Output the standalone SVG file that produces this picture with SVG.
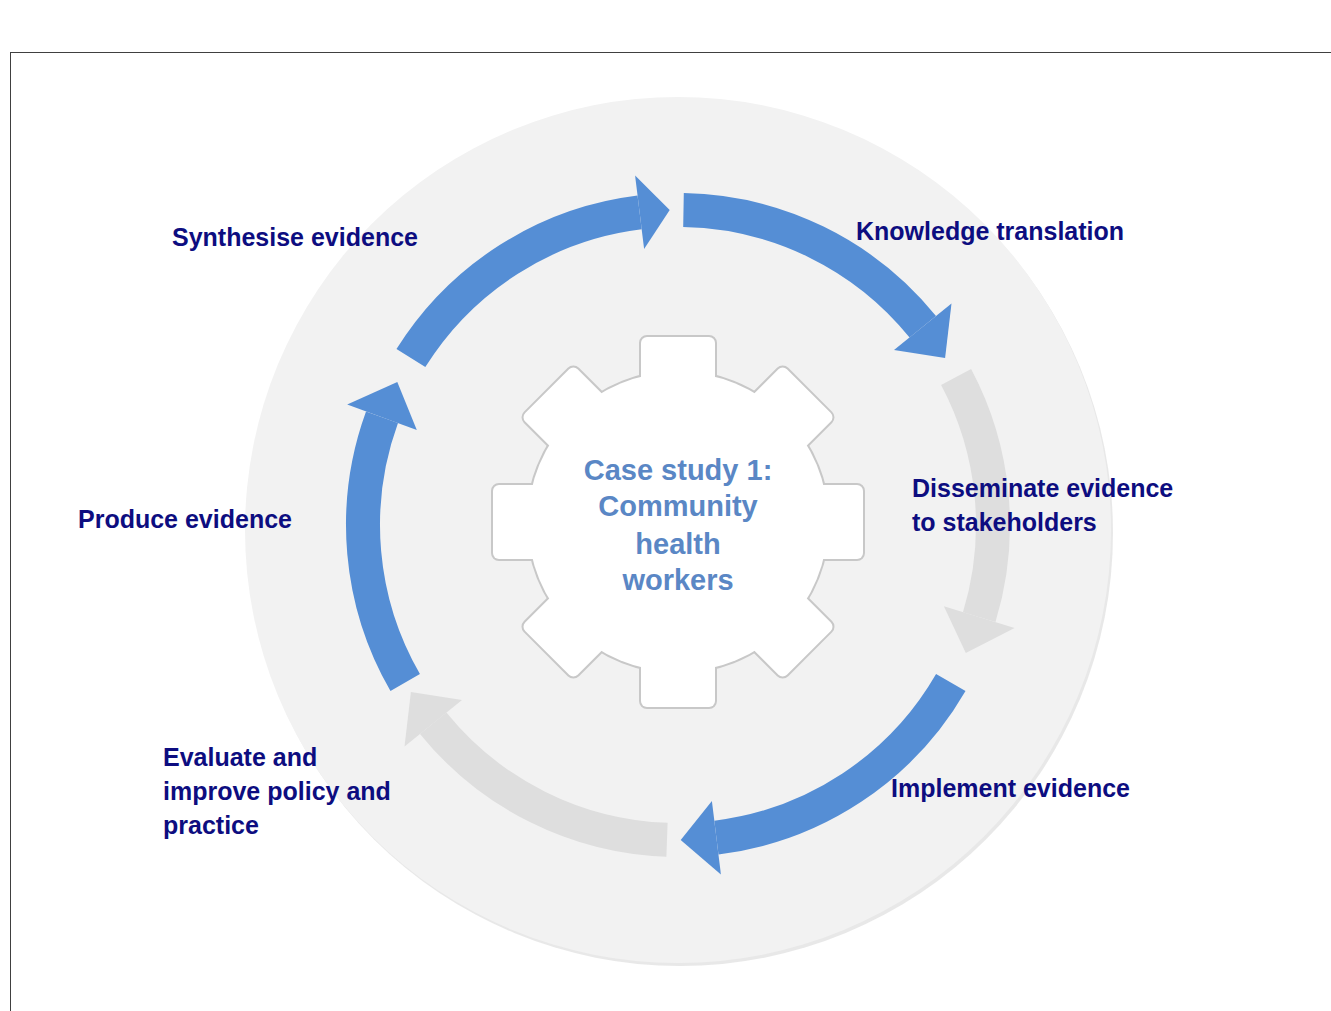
<svg xmlns="http://www.w3.org/2000/svg" width="1331" height="1011" viewBox="0 0 1331 1011">
<style>
.lbl{font-family:"Liberation Sans",Arial,sans-serif;font-weight:bold;font-size:25px;fill:#0d0d80}
.ctr{font-family:"Liberation Sans",Arial,sans-serif;font-weight:bold;font-size:29px;fill:#5a87c5;text-anchor:middle}
.blue{stroke:#558ed5;fill:none;stroke-width:34}
.gray{stroke:#dedede;fill:none;stroke-width:34}
</style>
<rect x="0" y="0" width="1331" height="1011" fill="#fff"/>
<rect x="10.5" y="52.5" width="1330" height="970" fill="none" stroke="#404040" stroke-width="1"/>
<circle cx="680" cy="533" r="433" fill="#d8d8d8" opacity="0.6"/>
<circle cx="678" cy="530" r="433" fill="#f2f2f2"/>
<g id="gear" transform="translate(678,522)">
<g stroke="#c8c8c8" stroke-width="4" fill="#fff">
<circle r="150"/>
<rect x="-37" y="-185" width="74" height="70" rx="6"/>
<rect x="-37" y="-185" width="74" height="70" rx="6" transform="rotate(45)"/>
<rect x="-37" y="-185" width="74" height="70" rx="6" transform="rotate(90)"/>
<rect x="-37" y="-185" width="74" height="70" rx="6" transform="rotate(135)"/>
<rect x="-37" y="-185" width="74" height="70" rx="6" transform="rotate(180)"/>
<rect x="-37" y="-185" width="74" height="70" rx="6" transform="rotate(225)"/>
<rect x="-37" y="-185" width="74" height="70" rx="6" transform="rotate(270)"/>
<rect x="-37" y="-185" width="74" height="70" rx="6" transform="rotate(315)"/>
</g>
<g fill="#fff">
<circle r="150"/>
<rect x="-37" y="-185" width="74" height="70" rx="6"/>
<rect x="-37" y="-185" width="74" height="70" rx="6" transform="rotate(45)"/>
<rect x="-37" y="-185" width="74" height="70" rx="6" transform="rotate(90)"/>
<rect x="-37" y="-185" width="74" height="70" rx="6" transform="rotate(135)"/>
<rect x="-37" y="-185" width="74" height="70" rx="6" transform="rotate(180)"/>
<rect x="-37" y="-185" width="74" height="70" rx="6" transform="rotate(225)"/>
<rect x="-37" y="-185" width="74" height="70" rx="6" transform="rotate(270)"/>
<rect x="-37" y="-185" width="74" height="70" rx="6" transform="rotate(315)"/>
</g>
<text class="ctr" y="-42">Case study 1:</text>
<text class="ctr" y="-6">Community</text>
<text class="ctr" y="32">health</text>
<text class="ctr" y="68">workers</text>
</g>
<g id="connectors">
<path class="blue" d="M410.9,358.1 A315,315 0 0 1 639.6,212.4"/>
<polygon fill="#558ed5" points="644.1,249.1 635.1,175.6 669.7,210.1"/>
<path class="blue" d="M683.5,210 A315,315 0 0 1 922.8,326.8"/>
<polygon fill="#558ed5" points="894,350.1 951.5,303.5 945.1,358.1"/>
<path class="gray" d="M956.1,377.1 A315,315 0 0 1 979.2,617.1"/>
<polygon fill="#dedede" points="943.9,606.3 1014.6,627.9 965.8,653.1"/>
<path class="blue" d="M950.8,682.5 A315,315 0 0 1 716.4,837.6"/>
<polygon fill="#558ed5" points="711.9,800.9 720.9,874.4 680.7,840"/>
<path class="gray" d="M667,839.8 A315,315 0 0 1 433.2,723.2"/>
<polygon fill="#dedede" points="462,699.9 404.5,746.5 410.9,691.9"/>
<path class="blue" d="M405.2,682.5 A315,315 0 0 1 382,417.3"/>
<polygon fill="#558ed5" points="416.8,429.9 347.2,404.6 397.3,382"/>
</g>
<g id="labels">
<text class="lbl" x="172" y="246">Synthesise evidence</text>
<text class="lbl" x="856" y="240">Knowledge translation</text>
<text class="lbl" x="912" y="497">Disseminate evidence</text>
<text class="lbl" x="912" y="531">to stakeholders</text>
<text class="lbl" x="78" y="528">Produce evidence</text>
<text class="lbl" x="891" y="797">Implement evidence</text>
<text class="lbl" x="163" y="766">Evaluate and</text>
<text class="lbl" x="163" y="800">improve policy and</text>
<text class="lbl" x="163" y="834">practice</text>
</g>
</svg>
